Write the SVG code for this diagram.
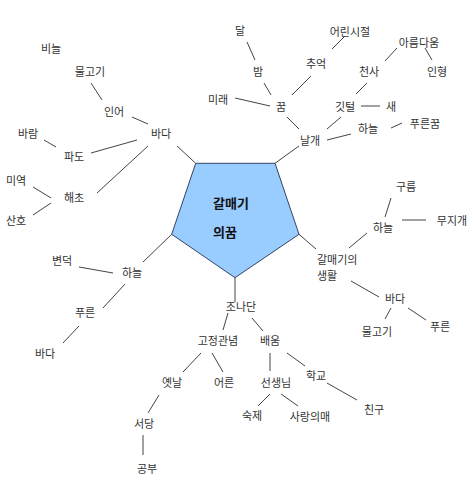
<svg xmlns="http://www.w3.org/2000/svg" width="474" height="482" viewBox="0 0 474 482">
<style>
.n text{font-family:"Noto Sans CJK KR","Noto Sans",sans-serif;font-size:11px;fill:#333;text-anchor:middle;dominant-baseline:central}
#edges line{stroke:#444;stroke-width:1}
.core text{font-family:"Noto Sans CJK KR",sans-serif;font-size:13px;font-weight:bold;fill:#111;dominant-baseline:central}
</style>
<rect width="474" height="482" fill="#fff"/>
<g id="edges">
<line x1="91" y1="83" x2="102" y2="100"/>
<line x1="132" y1="117" x2="148" y2="124"/>
<line x1="44" y1="140" x2="56" y2="147"/>
<line x1="91" y1="153" x2="137" y2="140"/>
<line x1="97" y1="193" x2="148" y2="146"/>
<line x1="33" y1="187" x2="51" y2="198"/>
<line x1="33" y1="215" x2="51" y2="203"/>
<line x1="177" y1="146" x2="195.7" y2="163.3"/>
<line x1="247" y1="42" x2="255" y2="60"/>
<line x1="264" y1="83" x2="271" y2="95"/>
<line x1="235" y1="98" x2="270" y2="106"/>
<line x1="345" y1="36" x2="332" y2="49"/>
<line x1="311" y1="76" x2="292" y2="95"/>
<line x1="397" y1="48" x2="385" y2="61"/>
<line x1="425" y1="48" x2="432" y2="60"/>
<line x1="367" y1="83" x2="356" y2="94"/>
<line x1="361" y1="106" x2="380" y2="106"/>
<line x1="287" y1="117" x2="299" y2="129"/>
<line x1="341" y1="117" x2="327" y2="129"/>
<line x1="327" y1="140" x2="351" y2="134"/>
<line x1="391" y1="128" x2="402" y2="123"/>
<line x1="299" y1="146" x2="275" y2="163.3"/>
<line x1="391" y1="198" x2="385" y2="217"/>
<line x1="402" y1="220" x2="426" y2="220"/>
<line x1="367" y1="233" x2="349" y2="248"/>
<line x1="299" y1="234.3" x2="316" y2="249"/>
<line x1="351" y1="281" x2="379" y2="297"/>
<line x1="391" y1="308" x2="385" y2="319"/>
<line x1="408" y1="308" x2="426" y2="320"/>
<line x1="171.7" y1="234.3" x2="143" y2="262"/>
<line x1="79" y1="267" x2="113" y2="273"/>
<line x1="125" y1="284" x2="103" y2="308"/>
<line x1="79" y1="326" x2="63" y2="343"/>
<line x1="235" y1="277.7" x2="235" y2="302"/>
<line x1="228" y1="313" x2="223" y2="330"/>
<line x1="201" y1="353" x2="183" y2="372"/>
<line x1="212" y1="353" x2="223" y2="372"/>
<line x1="159" y1="395" x2="148" y2="413"/>
<line x1="143" y1="435" x2="143" y2="455"/>
<line x1="252" y1="318" x2="263" y2="331"/>
<line x1="270" y1="353" x2="270" y2="371"/>
<line x1="287" y1="353" x2="305" y2="366"/>
<line x1="327" y1="383" x2="357" y2="400"/>
<line x1="270" y1="394" x2="258" y2="406"/>
<line x1="281" y1="394" x2="298" y2="406"/>
</g>
<g id="center" class="core">
<polygon points="195.7,163.3 275,163.3 299,234.3 235,277.7 171.7,234.3" fill="#99ccff" stroke="#334466" stroke-width="1"/>
<text x="213" y="202">갈매기</text>
<text x="213" y="231">의꿈</text>
</g>
<g class="n">
<g id="n-bineul"><text x="51" y="48">비늘</text></g>
<g id="n-mulgogi1"><text x="90" y="71">물고기</text></g>
<g id="n-ineo"><text x="114" y="111">인어</text></g>
<g id="n-bada1"><text x="161" y="133">바다</text></g>
<g id="n-baram"><text x="28" y="133">바람</text></g>
<g id="n-pado"><text x="74" y="156">파도</text></g>
<g id="n-miyeok"><text x="16" y="180">미역</text></g>
<g id="n-haecho"><text x="74" y="197">해초</text></g>
<g id="n-sanho"><text x="16" y="220">산호</text></g>
<g id="n-dal"><text x="240" y="30">달</text></g>
<g id="n-eorinsijeol"><text x="350" y="31">어린시절</text></g>
<g id="n-areumdaum"><text x="419" y="42">아름다움</text></g>
<g id="n-chueok"><text x="316" y="63">추억</text></g>
<g id="n-bam"><text x="258" y="71">밤</text></g>
<g id="n-cheonsa"><text x="369" y="71">천사</text></g>
<g id="n-inhyeong"><text x="437" y="71">인형</text></g>
<g id="n-mirae"><text x="218" y="99">미래</text></g>
<g id="n-kkum"><text x="281" y="106">꿈</text></g>
<g id="n-gitteol"><text x="345" y="106">깃털</text></g>
<g id="n-sae"><text x="391" y="106">새</text></g>
<g id="n-pureunkkum"><text x="425" y="123">푸른꿈</text></g>
<g id="n-haneul1"><text x="368" y="128">하늘</text></g>
<g id="n-nalgae"><text x="310" y="140">날개</text></g>
<g id="n-gureum"><text x="406" y="186">구름</text></g>
<g id="n-haneul2"><text x="383" y="227">하늘</text></g>
<g id="n-mujigae"><text x="452" y="220">무지개</text></g>
<g id="n-saenghwal"><text style="text-anchor:start;dominant-baseline:auto"><tspan x="317" y="264">갈매기의</tspan><tspan x="317" y="280">생활</tspan></text></g>
<g id="n-bada2"><text x="395" y="298">바다</text></g>
<g id="n-mulgogi2"><text x="377" y="331">물고기</text></g>
<g id="n-pureun2"><text x="440" y="326">푸른</text></g>
<g id="n-byeondeok"><text x="62" y="260">변덕</text></g>
<g id="n-haneul3"><text x="132" y="272">하늘</text></g>
<g id="n-pureun1"><text x="85" y="312">푸른</text></g>
<g id="n-bada3"><text x="45" y="353">바다</text></g>
<g id="n-jonathan"><text x="241" y="306">조나단</text></g>
<g id="n-gojeong"><text x="218" y="340">고정관념</text></g>
<g id="n-baeum"><text x="270" y="340">배움</text></g>
<g id="n-yennal"><text x="172" y="382">옛날</text></g>
<g id="n-eoreun"><text x="224" y="382">어른</text></g>
<g id="n-hakgyo"><text x="316" y="375">학교</text></g>
<g id="n-seonsaengnim"><text x="276" y="382">선생님</text></g>
<g id="n-chingu"><text x="374" y="409">친구</text></g>
<g id="n-sukje"><text x="252" y="415">숙제</text></g>
<g id="n-sarang"><text x="310" y="416">사랑의매</text></g>
<g id="n-seodang"><text x="144" y="423">서당</text></g>
<g id="n-gongbu"><text x="147" y="468">공부</text></g>
</g>
</svg>
